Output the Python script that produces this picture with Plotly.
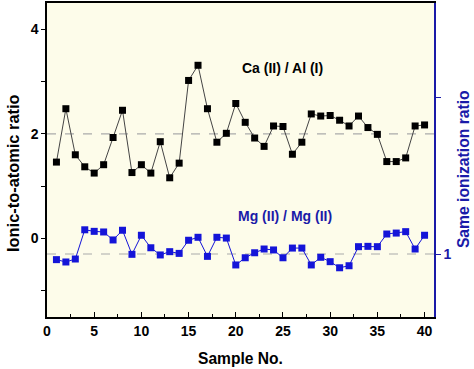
import plotly.graph_objects as go

samples = list(range(1, 41))
ca_al = [1.46, 2.48, 1.60, 1.37, 1.25, 1.41, 1.93, 2.45, 1.26, 1.41,
         1.25, 1.85, 1.16, 1.44, 3.02, 3.31, 2.48, 1.84, 2.01, 2.58,
         2.22, 1.92, 1.76, 2.15, 2.14, 1.61, 1.84, 2.38, 2.34, 2.35,
         2.26, 2.15, 2.34, 2.12, 1.99, 1.47, 1.47, 1.54, 2.15, 2.17]
mg_mg = [0.964, 0.949, 0.968, 1.155, 1.145, 1.141, 1.090, 1.152, 0.998, 1.120,
         1.040, 0.994, 1.015, 1.004, 1.088, 1.107, 0.985, 1.107, 1.102, 0.930,
         0.976, 1.008, 1.032, 1.026, 0.976, 1.038, 1.038, 0.930, 0.979, 0.951,
         0.912, 0.925, 1.047, 1.049, 1.047, 1.128, 1.134, 1.143, 1.032, 1.120]
ca_ref = 2
mg_ref = 1
left_ticks = [0, 2, 4]

FONT = "Liberation Sans, Arial, sans-serif"
BLUE = "#1414d8"
DBLUE = "#1a1aa8"

fig = go.Figure()
fig.add_trace(go.Scatter(x=samples, y=ca_al, mode="lines+markers",
                         line=dict(color="#444444", width=1),
                         marker=dict(symbol="square", size=7, color="black"),
                         showlegend=False))
fig.add_trace(go.Scatter(x=samples, y=mg_mg, mode="lines+markers", yaxis="y2",
                         line=dict(color=BLUE, width=1),
                         marker=dict(symbol="square", size=7, color=BLUE),
                         showlegend=False))

fig.add_shape(type="line", xref="paper", x0=0, x1=1, yref="y", y0=ca_ref, y1=ca_ref,
              line=dict(color="#aaaaaa", width=1.2, dash="dash"), layer="below")
fig.add_shape(type="line", xref="paper", x0=0, x1=1, yref="y2", y0=mg_ref, y1=mg_ref,
              line=dict(color="#aaaaaa", width=1.2, dash="dash"), layer="below")

fig.add_annotation(x=24.9, y=3.25, xref="x", yref="y", text="Ca (II) / Al (I)",
                   showarrow=False, font=dict(family=FONT, size=14, color="black", weight="bold"))
fig.add_annotation(x=25.2, y=0.43, xref="x", yref="y", text="Mg (II) / Mg (II)",
                   showarrow=False, font=dict(family=FONT, size=14, color=DBLUE, weight="bold"))

# axis titles
fig.add_annotation(x=0, y=0.4586, xref="paper", yref="paper", xshift=-34, textangle=-90,
                   xanchor="center", yanchor="middle",
                   text="Ionic-to-atomic ratio", showarrow=False,
                   font=dict(family=FONT, size=16.4, color="black", weight="bold"))
fig.add_annotation(x=1, y=0.471, xref="paper", yref="paper", xshift=29, textangle=-90,
                   xanchor="center", yanchor="middle",
                   text="Same ionization ratio", showarrow=False,
                   font=dict(family=FONT, size=15.7, color=DBLUE, weight="bold"))
fig.add_annotation(x=0.5, y=0, xref="paper", yref="paper", yshift=-41, yanchor="middle",
                   text="Sample No.", showarrow=False,
                   font=dict(family=FONT, size=15.6, color="black", weight="bold"))

fig.update_layout(
    width=474, height=369,
    margin=dict(l=47, r=40, t=3, b=52, autoexpand=False),
    paper_bgcolor="white", plot_bgcolor="#fdfcea",
    font=dict(family=FONT, size=13, color="black"),
    xaxis=dict(range=[0, 41], tickvals=[0, 5, 10, 15, 20, 25, 30, 35, 40],
               ticks="inside", ticklen=5, tickwidth=1.2, tickcolor="black",
               minor=dict(ticks="inside", ticklen=3, dtick=2.5, tick0=0, tickcolor="black"),
               showline=True, linecolor="black", linewidth=1.5, mirror=True,
               showgrid=False, zeroline=False, automargin=False,
               tickfont=dict(family=FONT, size=14, weight="bold")),
    yaxis=dict(range=[-1.5, 4.5], tickvals=left_ticks,
               ticks="outside", ticklen=4, tickcolor="black",
               minor=dict(ticks="outside", ticklen=4, dtick=1, tick0=0, tickcolor="black"),
               showline=True, linecolor="black", linewidth=1.5,
               showgrid=False, zeroline=False, automargin=False,
               tickfont=dict(family=FONT, size=14, weight="bold")),
    yaxis2=dict(overlaying="y", side="right", range=[0.597, 2.606],
                tickvals=[1, 2], ticktext=["1", ""],
                ticks="outside", ticklen=5, tickcolor=DBLUE,
                showline=True, linecolor=DBLUE, linewidth=1.5,
                showgrid=False, zeroline=False, automargin=False,
                tickfont=dict(family=FONT, size=14, weight="bold", color=DBLUE)),
)

fig.write_html("out.html", config={"displayModeBar": False},
               post_script="document.body.style.margin='0';document.body.style.padding='0';")
